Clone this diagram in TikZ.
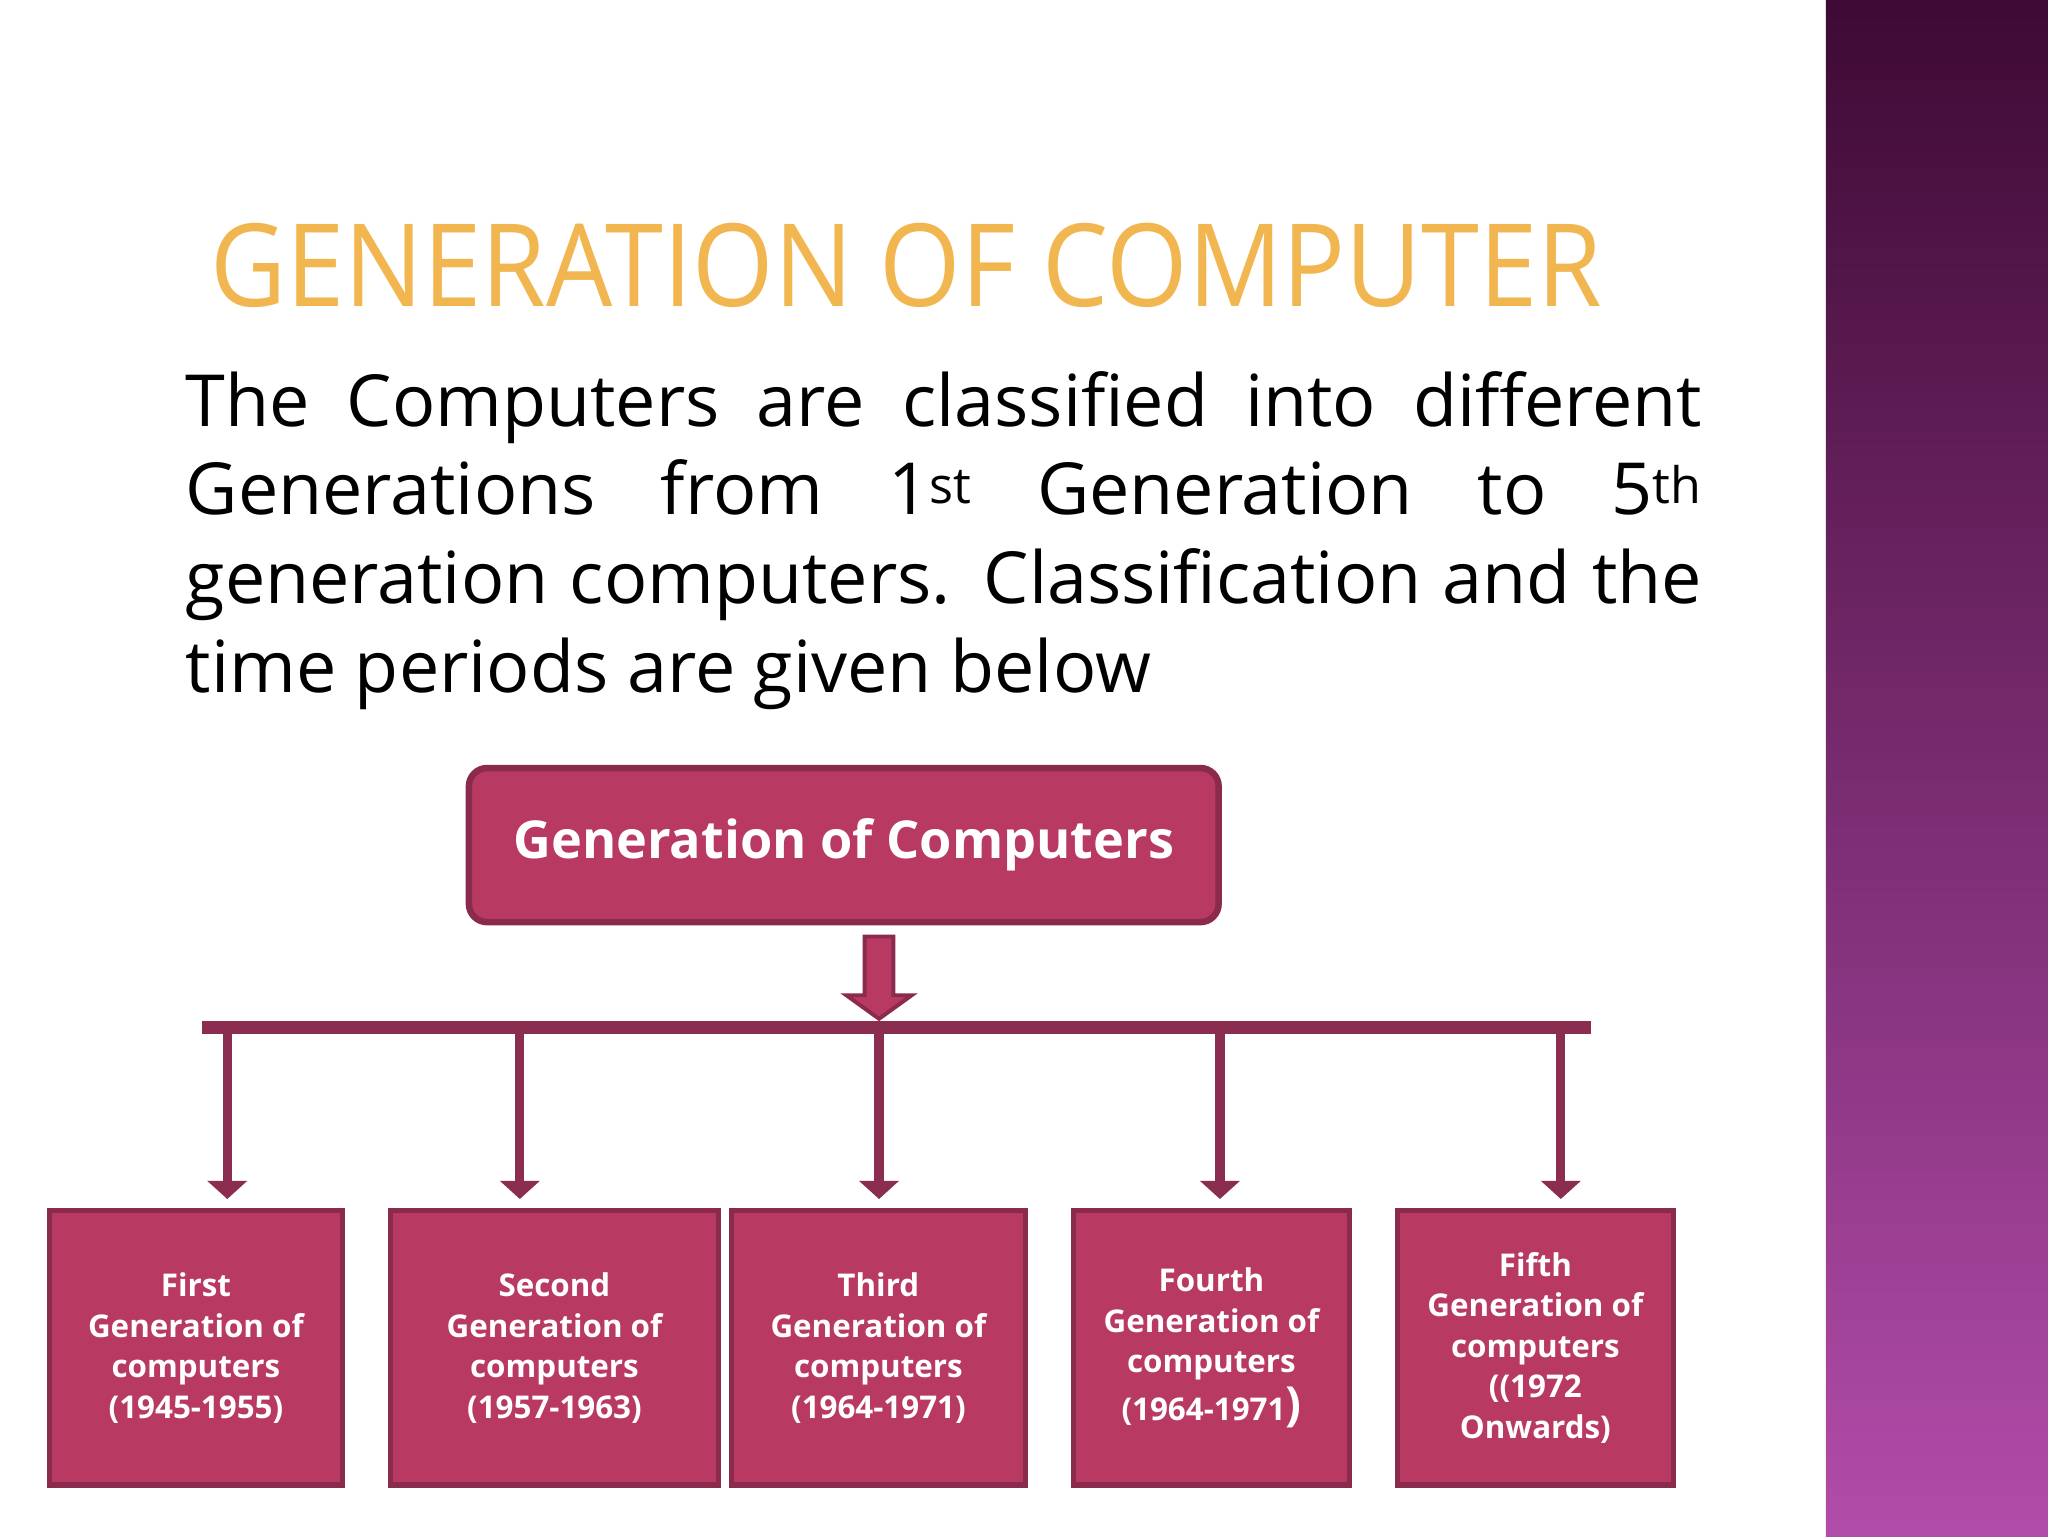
\documentclass[tikz,border=0pt]{standalone}
\usepackage{fontspec}
\setmainfont{Open Sans}
\usetikzlibrary{arrows.meta}
\definecolor{boxfill}{HTML}{B83A62}
\definecolor{boxline}{HTML}{8A2B4E}
\definecolor{conn}{HTML}{8A2D50}
\definecolor{titleor}{HTML}{F2B650}
\tikzset{
  genbox/.style={draw=boxline,line width=4pt,fill=boxfill,text=white,align=center,inner sep=0pt,font=\bfseries\fontsize{24}{31}\selectfont},
  conline/.style={draw=conn,line width=7pt,-{Triangle[length=14pt,width=30pt]}}
}
\begin{document}
\begin{tikzpicture}[x=1pt,y=-1pt]
\useasboundingbox (0,0) rectangle (1568,1176);
\fill[white] (0,0) rectangle (1568,1176);
\shade[top color={rgb,255:red,62;green,10;blue,52},bottom color={rgb,255:red,178;green,76;blue,170}] (1398,0) rectangle (1568,1176);
\node[anchor=west,text=titleor,xscale=0.91,font=\fontsize{88}{90}\selectfont] (title) at (158,203) {GENERATION OF COMPUTER};
\node[anchor=north west,text width=1161pt,align=justify,inner sep=0pt,font=\fontsize{55}{68}\selectfont] (body) at (142,284)
{\hyphenpenalty=10000 The Computers are classified into different\linebreak Generations from 1\textsuperscript{st} Generation to 5\textsuperscript{th}\linebreak generation computers. Classification and the\linebreak time periods are given below};
\node[draw=boxline,line width=5pt,fill=boxfill,rounded corners=14pt,text=white,minimum width=574pt,minimum height=118pt,font=\bfseries\fontsize{40}{46}\selectfont] (main) at (646,647) {Generation of Computers};
\draw[draw=boxline,line width=3pt,fill=boxfill] (662,717) -- (684,717) -- (684,762) -- (698,762) -- (673,780) -- (648,762) -- (662,762) -- cycle;
\coordinate (bl) at (155,787); \coordinate (br) at (1218,787);
\draw[conn,line width=10pt] (bl) -- (br);
\node[genbox,minimum width=224pt,minimum height=210pt] (g1) at (150,1032) {First\\Generation of\\computers\\(1945-1955)};
\node[genbox,minimum width=251pt,minimum height=210pt] (g2) at (424.5,1032) {Second\\Generation of\\computers\\(1957-1963)};
\node[genbox,minimum width=225pt,minimum height=210pt] (g3) at (672.5,1032) {Third\\Generation of\\computers\\(1964-1971)};
\node[genbox,minimum width=211pt,minimum height=210pt] (g4) at (927.5,1032) {Fourth\\Generation of\\computers\\[4pt](1964-1971{\fontsize{36}{36}\selectfont )}};
\node[genbox,minimum width=211pt,minimum height=210pt] (g5) at (1175.5,1032) {Fifth\\Generation of\\computers\\((1972\\Onwards)};
\foreach \x/\n in {174/1,398/2,673/3,934/4,1195/5}{
  \coordinate (t\n) at (\x,787);
  \coordinate (e\n) at (\x,918);
  \draw[conline] (t\n) -- (e\n);
}
\end{tikzpicture}
\end{document}
